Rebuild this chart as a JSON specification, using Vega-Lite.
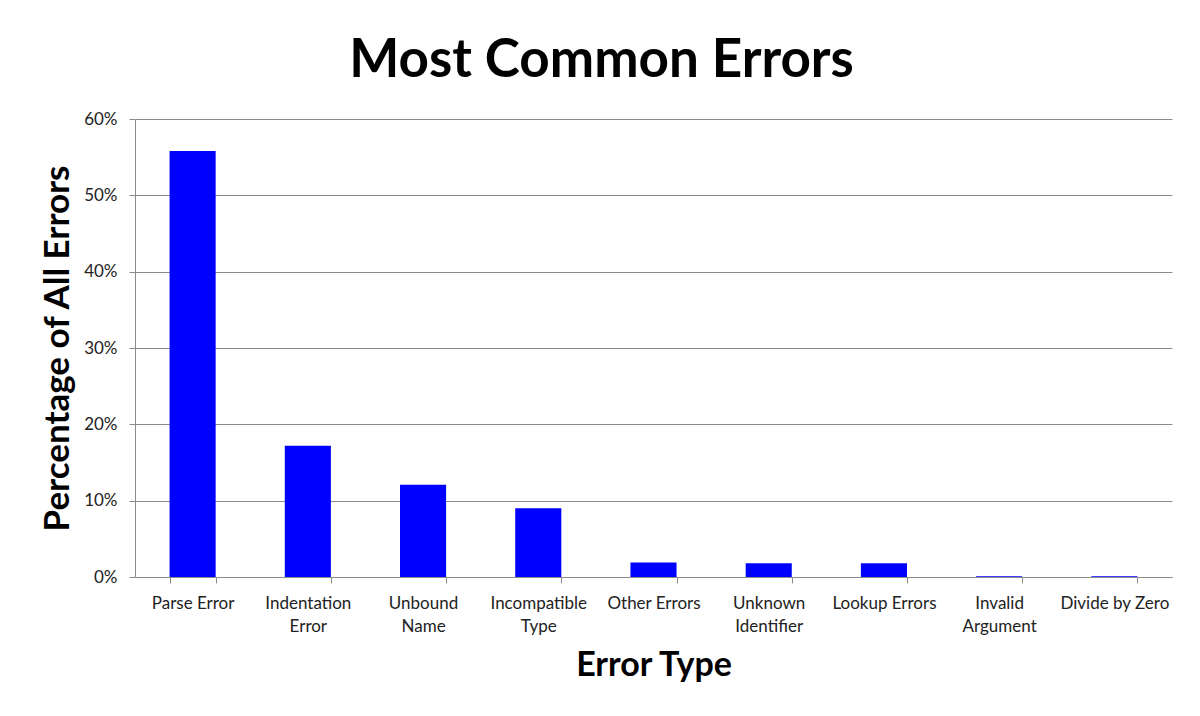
{
  "$schema": "https://vega.github.io/schema/vega-lite/v6.json",
  "autosize": {"type": "none"},
  "padding": {"left": 135, "top": 119, "right": 28, "bottom": 139},
  "width": 1037,
  "height": 458,
  "background": "white",
  "title": {
    "text": "Most Common Errors",
    "font": "Lato",
    "fontSize": 53,
    "fontWeight": "bold",
    "color": "#000000",
    "anchor": "middle",
    "dx": -52,
    "offset": 22
  },
  "data": {
    "values": [
      {"error": "Parse Error", "share": 0.558},
      {"error": "Indentation Error", "share": 0.172},
      {"error": "Unbound Name", "share": 0.121},
      {"error": "Incompatible Type", "share": 0.09},
      {"error": "Other Errors", "share": 0.019},
      {"error": "Unknown Identifier", "share": 0.018},
      {"error": "Lookup Errors", "share": 0.018},
      {"error": "Invalid Argument", "share": 0.001},
      {"error": "Divide by Zero", "share": 0.001}
    ]
  },
  "mark": {"type": "bar", "color": "#0000FF"},
  "encoding": {
    "x": {
      "field": "error",
      "type": "nominal",
      "sort": null,
      "title": "Error Type",
      "scale": {"paddingInner": 0.6, "paddingOuter": 0.3},
      "axis": {
        "labelAngle": 0,
        "tickBand": "extent",
        "tickSize": 6,
        "labelPadding": 12,
        "labelExpr": "indexof(['Indentation Error','Unbound Name','Incompatible Type','Unknown Identifier','Invalid Argument'], datum.label) >= 0 ? split(datum.label, ' ') : datum.label",
        "titleFontSize": 34,
        "titlePadding": 14
      }
    },
    "y": {
      "field": "share",
      "type": "quantitative",
      "title": "Percentage of All Errors",
      "scale": {"domain": [0, 0.6]},
      "axis": {
        "format": ".0%",
        "tickCount": 6,
        "tickSize": 6,
        "labelPadding": 12,
        "titleFontSize": 35,
        "titlePadding": 8
      }
    }
  },
  "config": {
    "view": {"stroke": null},
    "axis": {
      "labelFont": "Lato",
      "labelFontSize": 17,
      "labelColor": "#222222",
      "labelLineHeight": 23,
      "titleFont": "Lato",
      "titleFontWeight": "bold",
      "titleColor": "#000000",
      "domainColor": "#8c8c8c",
      "tickColor": "#8c8c8c",
      "gridColor": "#8c8c8c",
      "gridOpacity": 1
    },
    "axisX": {"grid": false}
  }
}
